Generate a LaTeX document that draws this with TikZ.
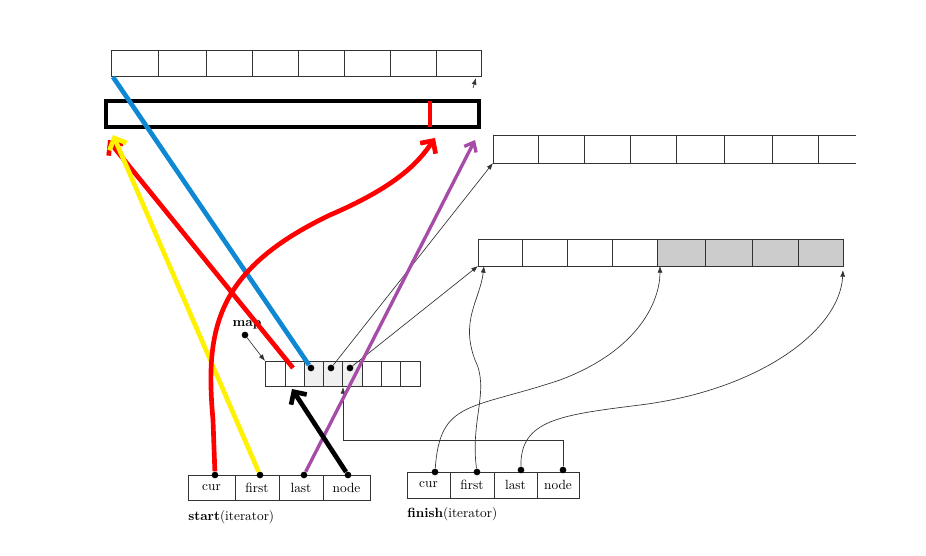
\documentclass[tikz,border=0pt]{standalone}
\usetikzlibrary{arrows.meta}
\begin{document}
\begin{tikzpicture}[x=0.75pt,y=-0.75pt,
  cell/.style={draw=black!80,line width=0.6pt},
  thin/.style={draw=black!80,line width=0.5pt},
  dotc/.style={circle,fill=black,inner sep=0pt,minimum size=5pt},
  fat/.style={line width=3.5pt,-{Straight Barb[length=7pt,width=14pt]}},
  lbl/.style={font=\normalsize,inner sep=0pt}]
\useasboundingbox (0,0) rectangle (926,556);
% top buffer
\foreach \a/\b in {111/158,158/206,206/252,252/298,298/344,344/390,390/436,436/481}
  \draw[cell] (\a,50) rectangle (\b,76);
\draw[thin,-{Latex[length=5pt]}] (473,88) -- (476,78);
% thick black rect
\draw[line width=3.5pt] (106,101) rectangle (479,127);
\coordinate (bar) at (292,114);
\draw[red,line width=3.5pt] (430,101) -- (430,127);
% buffer 2
\foreach \a/\b in {493/538,538/584,584/630,630/676,676/724,724/772,772/818}
  \draw[cell] (\a,135) rectangle (\b,163);
\draw[cell] (856,135) -- (818,135) -- (818,163) -- (856,163);
\coordinate (b2) at (493,163);
% buffer 3
\foreach \a/\b in {657/705,705/752,752/798,798/843}
  \fill[gray!40] (\a,239) rectangle (\b,266);
\foreach \a/\b in {478/522,522/567,567/612,612/657,657/705,705/752,752/798,798/843}
  \draw[cell] (\a,239) rectangle (\b,266);
\coordinate (b3) at (478,266);
% map
\fill[gray!12] (304,361) rectangle (362,386);
\foreach \a/\b in {265/285,285/304,304/323,323/342,342/362,362/381,381/400,400/420}
  \draw[cell] (\a,361) rectangle (\b,386);
\node[font=\bfseries\normalsize,inner sep=0pt] (maplbl) at (247,325) {map};
\node[dotc] (md) at (245,335) {};
\draw[thin,-{Latex[length=5pt]}] (md) -- (265,361);
\node[dotc] (m1) at (311,368) {};
\node[dotc] (m2) at (331,368) {};
\node[dotc] (m3) at (350,368) {};
\draw[thin,-{Latex[length=5pt]}] (m2) -- (b2);
\draw[thin,-{Latex[length=5pt]}] (m3) -- (b3);
% start iterator
\foreach \a/\b/\t in {188/235/cur,235/279/first,279/323/last,323/370/node}
  \draw[cell] (\a,475) rectangle (\b,500) node[midway,lbl] {\t};
\node[lbl,anchor=west] (slbl) at (188,517) {\textbf{start}(iterator)};
\node[dotc] (sc) at (215,475) {};
\node[dotc] (sf) at (260,475) {};
\node[dotc] (sl) at (304,475) {};
\node[dotc] (sn) at (348,475) {};
% finish iterator
\foreach \a/\b/\t in {407/450/cur,450/494/first,494/537/last,537/579/node}
  \draw[cell] (\a,472) rectangle (\b,498) node[midway,lbl] {\t};
\node[lbl,anchor=west] (flbl) at (407,514) {\textbf{finish}(iterator)};
\node[dotc] (fc) at (435,472) {};
\node[dotc] (ff) at (477,472) {};
\node[dotc] (fl) at (521,470) {};
\node[dotc] (fn) at (563,470) {};
\draw[thin,-{Latex[length=5pt]}] (fc) .. controls (440,400) and (470,410) .. (560,380) .. controls (640,350) and (660,300) .. (660,266);
\draw[thin,-{Latex[length=5pt]}] (ff) .. controls (470,420) and (490,390) .. (475,360) .. controls (460,320) and (480,300) .. (484,266);
\draw[thin,-{Latex[length=5pt]}] (fl) .. controls (520,420) and (560,415) .. (640,405) .. controls (760,390) and (840,330) .. (843,270);
\draw[thin,-{Latex[length=5pt]}] (fn) -- (563,440) -- (343,440) -- (343,387);
% coloured lines
\draw[cyan!70!blue,line width=3.5pt] (113,77) -- (m1);
\draw[red,fat] (293,368) -- (108,140);
\draw[yellow,fat] (sf) -- (113,135);
\draw[red,fat] (sc) -- (213,420) .. controls (205,330) and (215,270) .. (330,215) .. controls (400,185) and (420,160) .. (435,138);
\draw[violet!70,line width=2.5pt,-{Straight Barb[length=6pt,width=10pt]}] (sl) -- (475,140);
\draw[black,fat] (sn) -- (292,389);
\end{tikzpicture}
\end{document}
